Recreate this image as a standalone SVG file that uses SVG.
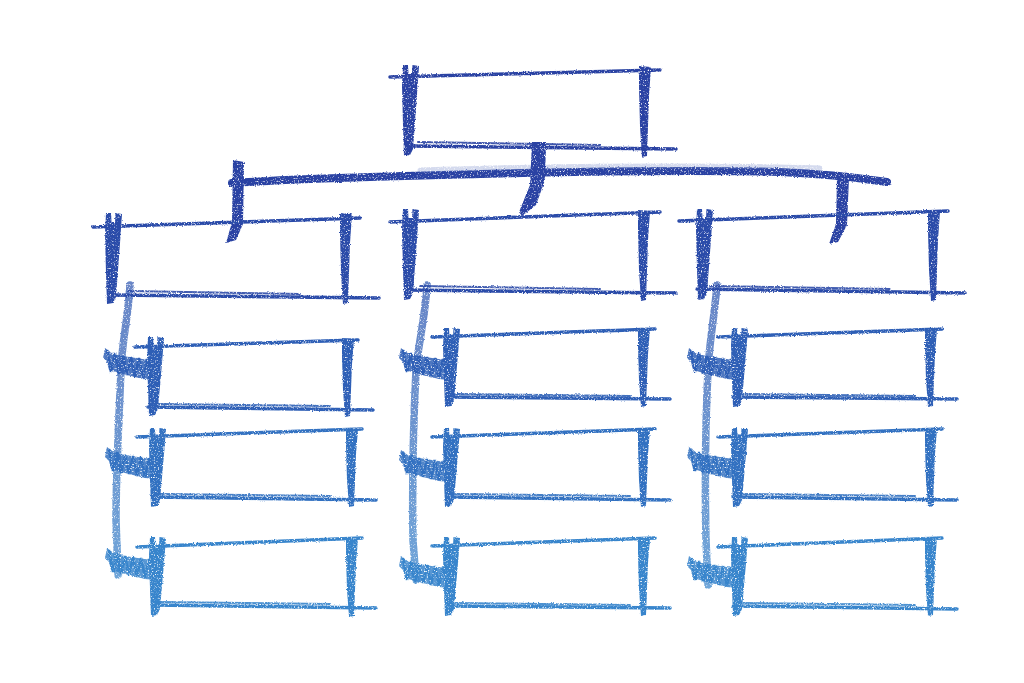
<svg xmlns="http://www.w3.org/2000/svg" xmlns:xlink="http://www.w3.org/1999/xlink" width="1024" height="683" viewBox="0 0 1024 683">
<style>
.ln{fill:none;stroke:currentColor;stroke-width:3.5;stroke-linecap:round}
.ln2{fill:none;stroke:currentColor;stroke-width:2;stroke-linecap:round;opacity:.9}
.pf{fill:currentColor;stroke:none}
.c0{color:#2a43a3}.c1{color:#2c4ba9}.c2{color:#2e5fb6}.c3{color:#3271c1}.c4{color:#3885cc}
</style>
<defs>
<linearGradient id="vg" gradientUnits="userSpaceOnUse" x1="0" y1="280" x2="0" y2="600">
<stop offset="0" stop-color="#2d55b0"/><stop offset="1" stop-color="#3a86cc"/>
</linearGradient>
<filter id="crayon" filterUnits="userSpaceOnUse" x="0" y="0" width="1024" height="683">
<feTurbulence type="fractalNoise" baseFrequency="0.9" numOctaves="2" seed="3" result="n"/>
<feDisplacementMap in="SourceGraphic" in2="n" scale="2.5" xChannelSelector="R" yChannelSelector="G" result="d"/>
<feTurbulence type="fractalNoise" baseFrequency="0.7" numOctaves="2" seed="5" result="n2"/>
<feColorMatrix in="n2" type="matrix" values="0 0 0 0 0 0 0 0 0 0 0 0 0 0 0 4 0 0 0 -0.7" result="m"/>
<feComposite in="d" in2="m" operator="in"/>
</filter>
<path id="lp90" class="pf" d="M-5,0 L0,0 L0.5,9 L4,9 L4.5,0 L11,1 L9,30 L5,84 L2,90 L-4,91 L-5,60 L-6,20 Z"/>
<path id="rp90" class="pf" d="M-5,0 L7,1 L5,30 L3,90 L-2,91 L-4,60 L-5,20 Z"/>
<path id="lp78" class="pf" d="M-5,0 L0,0 L0.5,9 L4,9 L4.5,0 L11,1 L9,26 L5,72 L2,78 L-4,79 L-5,52 L-6,18 Z"/>
<path id="rp78" class="pf" d="M-5,0 L7,1 L5,26 L3,78 L-2,79 L-4,52 L-5,18 Z"/>
<g id="hatch">
<path class="pf" opacity="0.85" d="M-48,0 L-40,6 L-30,8 L-4,12 L0,12 L0,32 L-10,31 L-30,26 L-44,22 L-46,14 L-50,10 Z"/>
<path fill="none" stroke="currentColor" stroke-width="2.5" d="M-46,2 L-42,24 L-38,5 L-34,26 L-30,8 L-26,27 L-22,9 L-18,29 L-14,10 L-10,30 L-6,11 L-2,31"/>
</g>
</defs>
<rect width="1024" height="683" fill="#ffffff"/>
<g filter="url(#crayon)">
<g id="connectors">
<g class="c0">
<path d="M232,183 C300,178 400,176 480,174 C560,172 700,170 780,172 C830,174 860,178 887,182" fill="none" stroke="currentColor" stroke-width="8" stroke-linecap="round"/>
<path d="M420,170 C560,166 700,164 820,168" fill="none" stroke="#6f84c8" stroke-width="5" opacity="0.3" stroke-linecap="round"/>
<path class="pf" d="M233,160 L244,162 L243,224 L236,240 L226,243 L232,222 Z"/>
<path class="pf" d="M532,142 L546,142 L545,180 L536,205 L522,216 L519,212 L530,185 Z"/>
<path class="pf" d="M837,178 L849,178 L847,225 L838,242 L829,244 L836,224 Z"/>
</g>
<g fill="none" stroke="url(#vg)" stroke-width="7.5" stroke-linecap="round" opacity="0.72">
<path d="M130,285 C128,320 122,340 121,370 C119,420 116,470 116,520 L118,575"/>
<path d="M427,285 C425,320 418,345 416,370 C413,430 412,480 413,540 L416,580"/>
<path d="M717,285 C714,320 709,345 708,370 C705,430 705,490 706,540 L708,585"/>
</g>
<g class="c2"><use href="#hatch" x="153" y="348"/><use href="#hatch" x="449" y="348"/><use href="#hatch" x="737" y="348"/></g>
<g class="c3"><use href="#hatch" x="155" y="447"/><use href="#hatch" x="449" y="450"/><use href="#hatch" x="737" y="447"/></g>
<g class="c4"><use href="#hatch" x="155" y="548"/><use href="#hatch" x="449" y="556"/><use href="#hatch" x="737" y="556"/></g>
</g>

<g id="n0" class="c0">
<path class="ln" d="M390,77 L660,70"/>
<use href="#lp90" x="408" y="65"/><use href="#rp90" x="644" y="66"/>
<path class="ln" d="M410,146 L676,149"/><path class="ln2" d="M418,142 L600,145"/>
</g>

<g id="n1" class="c1">
<path class="ln" d="M93,227 L360,218"/>
<use href="#lp90" x="111" y="213"/><use href="#rp90" x="345" y="213"/>
<path class="ln" d="M113,295 L379,298"/><path class="ln2" d="M128,291 L300,294"/>
</g>
<g id="n2" class="c1">
<path class="ln" d="M390,222 L660,212"/>
<use href="#lp90" x="408" y="209"/><use href="#rp90" x="643" y="210"/>
<path class="ln" d="M406,290 L676,293"/><path class="ln2" d="M420,286 L600,289"/>
</g>
<g id="n3" class="c1">
<path class="ln" d="M679,221 L948,211"/>
<use href="#lp90" x="702" y="209"/><use href="#rp90" x="933" y="210"/>
<path class="ln" d="M697,289 L965,293"/><path class="ln2" d="M710,286 L890,289"/>
</g>

<g id="n4" class="c2">
<path class="ln" d="M135,347 L358,340"/>
<use href="#lp78" x="153" y="337"/><use href="#rp78" x="347" y="338"/>
<path class="ln" d="M148,407 L373,410"/><path class="ln2" d="M158,404 L330,406"/>
</g>
<g id="n5" class="c3">
<path class="ln" d="M137,437 L362,429"/>
<use href="#lp78" x="155" y="428"/><use href="#rp78" x="351" y="428"/>
<path class="ln" d="M153,497 L376,500"/><path class="ln2" d="M160,494 L330,496"/>
</g>
<g id="n6" class="c4">
<path class="ln" d="M137,547 L362,538"/>
<use href="#lp78" x="155" y="537"/><use href="#rp78" x="351" y="538"/>
<path class="ln" d="M153,605 L376,608"/><path class="ln2" d="M160,602 L330,604"/>
</g>

<g id="n7" class="c2">
<path class="ln" d="M432,337 L655,329"/>
<use href="#lp78" x="449" y="328"/><use href="#rp78" x="643" y="328"/>
<path class="ln" d="M447,397 L670,399"/><path class="ln2" d="M455,394 L630,396"/>
</g>
<g id="n8" class="c3">
<path class="ln" d="M432,437 L655,429"/>
<use href="#lp78" x="449" y="428"/><use href="#rp78" x="643" y="428"/>
<path class="ln" d="M447,497 L670,500"/><path class="ln2" d="M455,494 L630,496"/>
</g>
<g id="n9" class="c4">
<path class="ln" d="M432,546 L655,538"/>
<use href="#lp78" x="449" y="537"/><use href="#rp78" x="643" y="537"/>
<path class="ln" d="M447,606 L670,608"/><path class="ln2" d="M455,603 L630,605"/>
</g>

<g id="n10" class="c2">
<path class="ln" d="M718,337 L942,329"/>
<use href="#lp78" x="737" y="328"/><use href="#rp78" x="930" y="328"/>
<path class="ln" d="M733,397 L957,399"/><path class="ln2" d="M742,394 L915,396"/>
</g>
<g id="n11" class="c3">
<path class="ln" d="M718,437 L942,429"/>
<use href="#lp78" x="737" y="428"/><use href="#rp78" x="930" y="428"/>
<path class="ln" d="M733,497 L957,500"/><path class="ln2" d="M742,494 L915,496"/>
</g>
<g id="n12" class="c4">
<path class="ln" d="M718,547 L942,538"/>
<use href="#lp78" x="737" y="537"/><use href="#rp78" x="930" y="537"/>
<path class="ln" d="M733,606 L957,609"/><path class="ln2" d="M742,603 L915,605"/>
</g>
</g>
</svg>
